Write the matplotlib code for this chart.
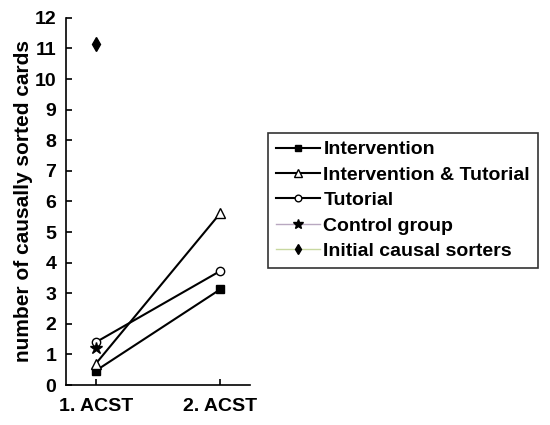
import matplotlib
matplotlib.use('Agg')
import matplotlib.pyplot as plt

# data
sessions = ['1. ACST', '2. ACST']
intervention = [0.47, 3.13]
intervention_tutorial = [0.70, 5.62]
tutorial = [1.40, 3.73]
control_group = [1.22]
initial_sorters = [11.15]

plt.rcParams['font.family'] = ['Liberation Sans', 'DejaVu Sans']
plt.rcParams['font.weight'] = 'bold'

fig = plt.figure(figsize=(5.5, 4.25), dpi=100)
ax = fig.add_axes([0.12, 0.094, 0.335, 0.864])

x = [1, 2]
ax.plot(x, intervention, 'k-', marker='s', ms=5.5, lw=1.5, label='Intervention')
ax.plot(x, intervention_tutorial, 'k-', marker='^', ms=7, mfc='white', lw=1.5,
        label='Intervention & Tutorial')
ax.plot(x, tutorial, 'k-', marker='o', ms=6, mfc='white', lw=1.5, label='Tutorial')
ax.plot([1], control_group, color='#b8a8c0', lw=1, marker='*', ms=9,
        mfc='k', mec='k', label='Control group')
ax.plot([1], initial_sorters, color='#c8d8a0', lw=1, marker='d', ms=7,
        mfc='k', mec='k', label='Initial causal sorters')

ax.set_xlim(0.76, 2.24)
ax.set_ylim(0, 12)
ax.set_xticks(x)
ax.set_xticklabels(sessions)
ax.set_yticks(range(0, 13))
ax.set_ylabel('number of causally sorted cards', fontsize=15, fontweight='bold',
              labelpad=1)
ax.tick_params(direction='in', labelsize=14, length=4, width=1.2)
ax.tick_params(axis='y', pad=7)
ax.tick_params(axis='x', pad=9)
for s in ['top', 'right']:
    ax.spines[s].set_visible(False)
for s in ['left', 'bottom']:
    ax.spines[s].set_linewidth(1.2)

leg = fig.legend(loc='upper left', bbox_to_anchor=(0.487, 0.687), fontsize=14,
                 frameon=True, fancybox=False, edgecolor='k', handlelength=2.3,
                 handletextpad=0.15, borderpad=0.4, labelspacing=0.4,
                 borderaxespad=0, markerscale=0.8)
leg.get_frame().set_linewidth(1.2)

plt.savefig('out.png', dpi=100)
